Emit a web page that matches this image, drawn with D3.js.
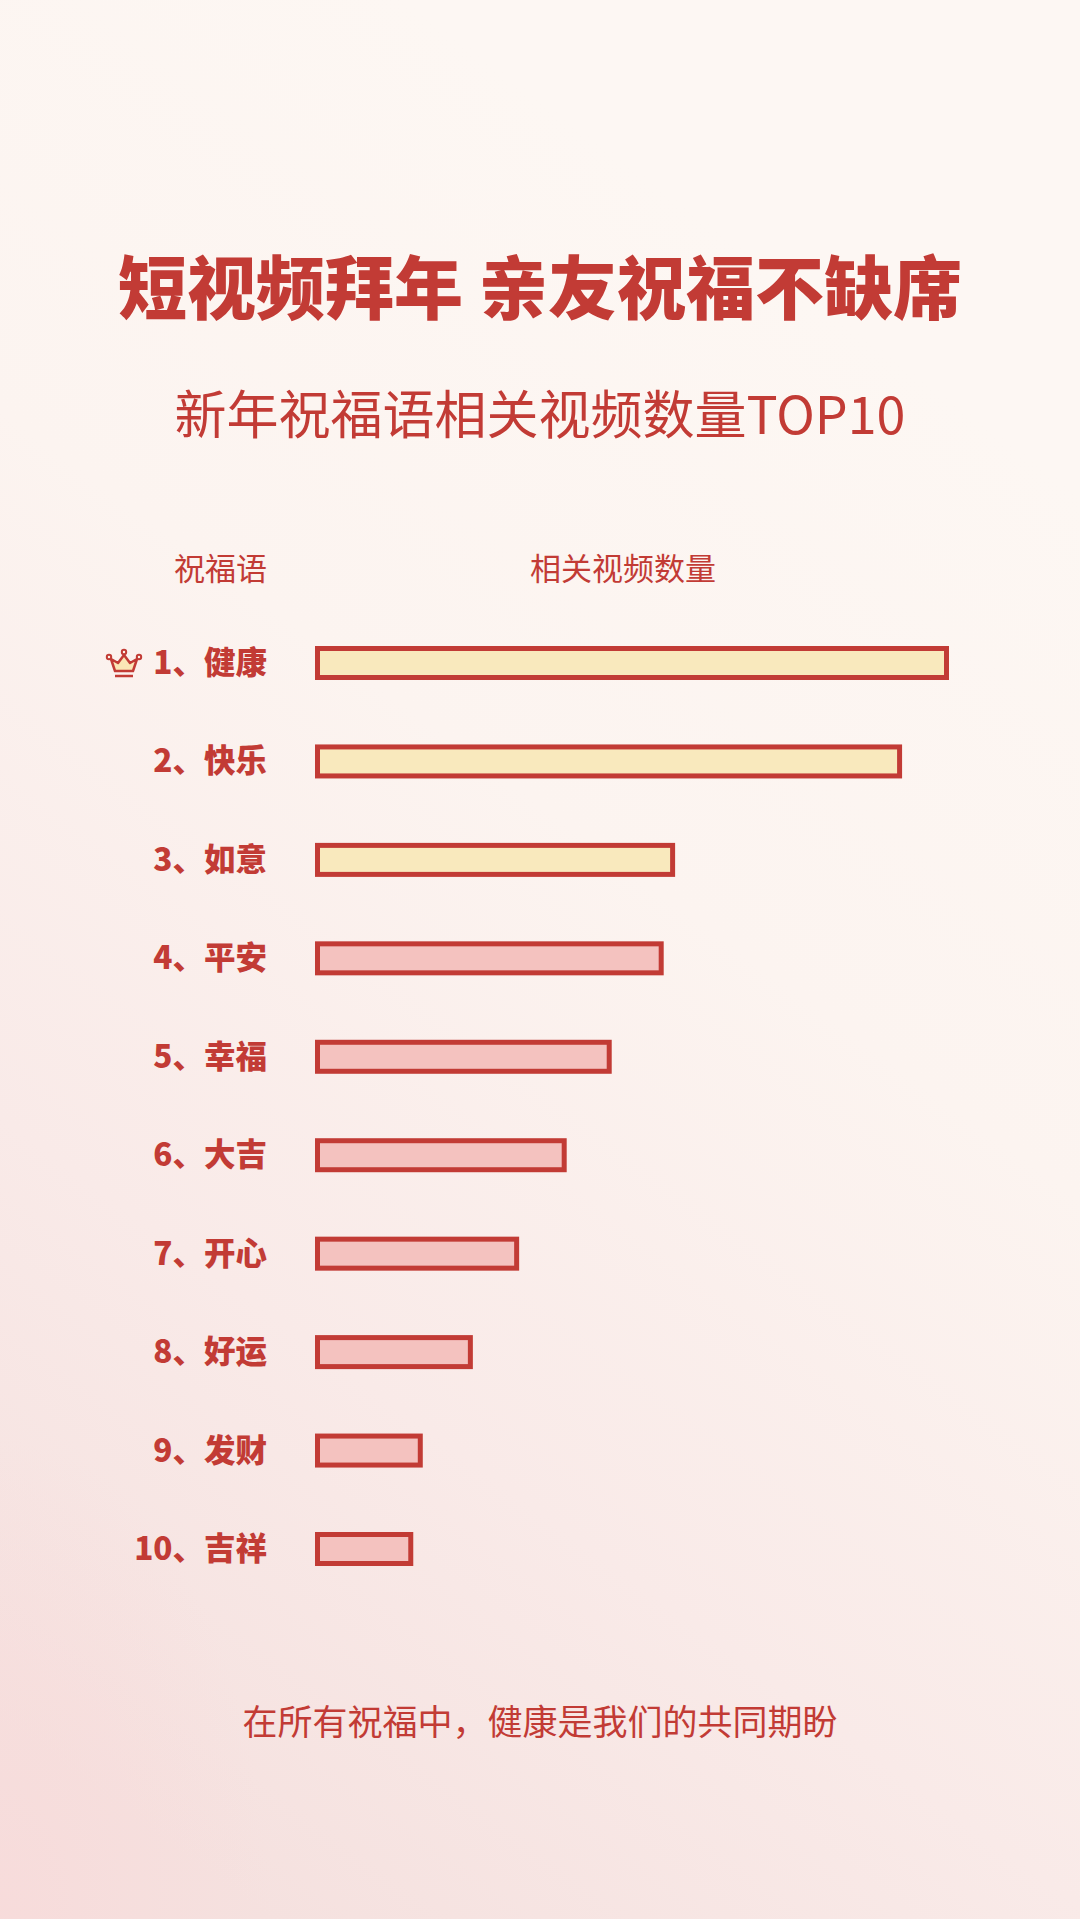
<!DOCTYPE html>
<html><head><meta charset="utf-8">
<style>html,body{margin:0;padding:0;background:#fdf8f4;overflow:hidden}svg{display:block}
text{font-family:"Noto Sans CJK SC","Noto Sans",sans-serif}</style>
<script src="https://cdn.jsdelivr.net/npm/d3@7/dist/d3.min.js"></script></head><body>
<script>
const categories=["健康","快乐","如意","平安","幸福","大吉","开心","好运","发财","吉祥"];
const values=[100,92.6,56.8,55,46.8,39.7,32.2,24.9,17,15.5];
const title="短视频拜年 亲友祝福不缺席";
const subtitle="新年祝福语相关视频数量TOP10";
const colLabels=["祝福语","相关视频数量"];
const footer="在所有祝福中\uFF0C健康是我们的共同期盼";
const highlightCount=3;

const W=1080,H=1919,red="#c23b35";
const svg=d3.select("body").append("svg").attr("width",W).attr("height",H);
const defs=svg.append("defs");
const g1=defs.append("linearGradient").attr("id","bg").attr("x1","0.62").attr("y1","0.1").attr("x2","0.25").attr("y2","1");
[[0,"#fdf7f3"],[0.35,"#fcf4f0"],[0.7,"#f9eae8"],[1,"#f5e1df"]].forEach(s=>g1.append("stop").attr("offset",s[0]).attr("stop-color",s[1]));
svg.append("rect").attr("width",W).attr("height",H).attr("fill","url(#bg)");
const g2=defs.append("radialGradient").attr("id","corner").attr("cx","0").attr("cy","1").attr("r","0.25");
g2.append("stop").attr("offset",0).attr("stop-color","#f8d9d9").attr("stop-opacity",0.7);
g2.append("stop").attr("offset",1).attr("stop-color","#f8d9d9").attr("stop-opacity",0);
svg.append("rect").attr("width",W).attr("height",H).attr("fill","url(#corner)");

svg.append("text").attr("x",540).attr("y",314).attr("text-anchor","middle").attr("fill",red)
  .attr("font-size",69).attr("font-weight",900).text(title);
svg.append("text").attr("x",540).attr("y",434).attr("text-anchor","middle").attr("fill",red)
  .attr("font-size",52).attr("font-weight",400).text(subtitle);
svg.append("text").attr("x",267).attr("y",580).attr("text-anchor","end").attr("fill",red)
  .attr("font-size",31).attr("font-weight",400).text(colLabels[0]);
svg.append("text").attr("x",623).attr("y",580).attr("text-anchor","middle").attr("fill",red)
  .attr("font-size",31).attr("font-weight",400).text(colLabels[1]);

const x=d3.scaleLinear().domain([0,100]).range([315,949]);
const y=d3.scalePoint().domain(categories).range([663,1549]);
const barH=29,sw=5;

const row=svg.selectAll("g.row").data(categories).join("g").attr("class","row");
row.append("rect")
  .attr("x",x(0)+sw/2).attr("y",d=>y(d)-barH/2)
  .attr("width",(d,i)=>x(values[i])-x(0)-sw).attr("height",barH)
  .attr("fill",(d,i)=>i<highlightCount?"#f9e9bd":"#f4c2bf")
  .attr("stroke",red).attr("stroke-width",sw);
row.append("text").attr("x",267).attr("y",d=>y(d)+11).attr("text-anchor","end")
  .attr("fill",red).attr("font-size",31.5).attr("font-weight",900)
  .text((d,i)=>(i+1)+"、"+d);

// crown marking first place
const crown=svg.append("g").attr("transform",`translate(124,${y(categories[0])})`);
crown.append("path").attr("d","M-9,8 L-13,-4 L-6,0 L0,-8 L6,0 L13,-4 L9,8 Z")
  .attr("fill","#fbe6b5").attr("stroke",red).attr("stroke-width",2.5).attr("stroke-linejoin","round");
[[-15,-6],[0,-11],[15,-6]].forEach(p=>crown.append("circle").attr("cx",p[0]).attr("cy",p[1]).attr("r",2.2).attr("fill","#fdf3ea").attr("stroke",red).attr("stroke-width",2));
crown.append("line").attr("x1",-9).attr("x2",9).attr("y1",13).attr("y2",13).attr("stroke",red).attr("stroke-width",2.5);

svg.append("text").attr("x",540).attr("y",1735).attr("text-anchor","middle").attr("fill",red)
  .attr("font-size",35).attr("font-weight",400).text(footer);
</script></body></html>
